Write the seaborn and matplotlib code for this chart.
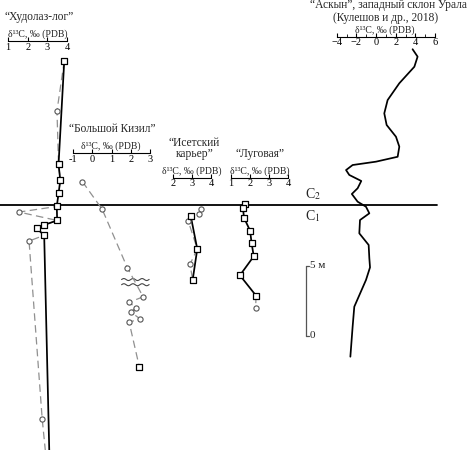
import numpy as np
import pandas as pd
import matplotlib
matplotlib.use("Agg")
import matplotlib.pyplot as plt
import seaborn as sns

sns.set_theme(style="white")
plt.rcParams['font.family'] = ['Liberation Serif', 'DejaVu Serif']
plt.rcParams['mathtext.fontset'] = 'stix'

# ---------------- DATA (height in m relative to C1/C2 boundary, d13C in permil) ----------
# Khudolaz-log
khud_sq_d13c = [3.86, 3.57, 3.66, 3.57, 3.48, 3.50, 2.84, 2.46, 2.84]
khud_sq_h = [10.25, 2.86, 1.73, 0.80, -0.14, -1.14, -1.46, -1.71, -2.20]
khud_tail_d13c = [2.84, 3.11]
khud_tail_h = [-2.20, -18.3]
khud_grey_d13c = [3.86, 3.49, 3.57, 3.66, 3.57, 3.48, 1.56, 3.50, 2.84, 2.46, 2.84, 2.07, 2.74, 2.95]
khud_grey_h = [10.25, 6.68, 2.86, 1.73, 0.80, -0.14, -0.54, -1.14, -1.46, -1.71, -2.20, -2.61, -15.34, -18.3]
khud_circ_d13c = [3.49, 1.56, 2.07, 2.74]
khud_circ_h = [6.68, -0.54, -2.61, -15.34]

# Bolshoy Kizil
kiz_circ_d13c = [-0.50, 0.52, 1.81, 2.63, 1.91, 2.25, 2.00, 2.46, 1.91]
kiz_circ_h = [1.63, -0.34, -4.50, -6.59, -6.99, -7.37, -7.68, -8.16, -8.41]
kiz_sq_d13c = [2.44]
kiz_sq_h = [-11.63]
kiz_unconf_h = [-5.36, -5.73]
kiz_unconf_range = [1.52, 2.94]

# Isetsky quarry
ise_sq_d13c = [2.94, 3.28, 3.04]
ise_sq_h = [-0.82, -3.18, -5.39]
ise_circ_d13c = [3.47, 3.39, 2.81, 2.90]
ise_circ_h = [-0.32, -0.70, -1.18, -4.27]
ise_grey_d13c = [3.47, 3.39, 2.81, 3.28, 2.90, 3.04]
ise_grey_h = [-0.32, -0.70, -1.18, -3.18, -4.27, -5.39]

# Lugovaya
lug_sq_d13c = [1.73, 1.64, 1.69, 2.01, 2.09, 2.20, 1.48, 2.32]
lug_sq_h = [0.04, -0.23, -0.94, -1.87, -2.77, -3.70, -5.06, -6.51]
lug_circ_d13c = [2.30]
lug_circ_h = [-7.37]

# Askyn (Kuleshov et al., 2018)
ask_d13c = [3.72, 4.23, 3.90, 2.37, 1.18, 0.84, 1.08, 2.03, 2.37, 2.20, 0.00, -2.38, -3.05,
            -2.72, -1.50, -1.87, -2.46, -1.87, -1.02, -0.68, -1.63, -1.70, -0.75, -0.68,
            -0.61, -1.02, -2.21, -2.38, -2.61]
ask_h = [11.09, 10.56, 9.84, 8.66, 7.46, 6.51, 5.68, 4.84, 4.13, 3.41, 3.06, 2.82, 2.46,
         2.11, 1.68, 1.16, 0.75, 0.20, -0.16, -0.63, -1.11, -2.06, -2.89, -3.84,
         -4.49, -5.39, -7.30, -8.73, -10.87]

# scale axes ticks
khud_ticks = [1, 2, 3, 4]
kiz_ticks = [-1, 0, 1, 2, 3]
ise_ticks = [2, 3, 4]
lug_ticks = [1, 2, 3, 4]
ask_ticks = [-4, -2, 0, 2, 4, 6]

# ---------------- LAYOUT ----------------
W, H = 474, 450
Y0 = 204.5      # pixel row of boundary
PXM = 14.0      # pixels per metre
H_TOP = Y0 / PXM
H_BOT = (Y0 - H) / PXM

def h_of(ypx):
    return (Y0 - ypx) / PXM

fig = plt.figure(figsize=(W / 100, H / 100), dpi=100)

ax_bg = fig.add_axes([0, 0, 1, 1])
ax_bg.set_xlim(0, 1)
ax_bg.set_ylim(H_BOT, H_TOP)
ax_bg.axis('off')
ax_bg.axhline(0, xmin=0, xmax=437 / W, color='black', lw=1.3, zorder=1)

# scale bar 5 m
sb_x = 306 / W
sb_h0 = h_of(336)
scale_len = 5
ax_bg.plot([sb_x, sb_x], [sb_h0, sb_h0 + scale_len], color='#555555', lw=0.9)
for hh in (sb_h0, sb_h0 + scale_len):
    ax_bg.plot([sb_x, sb_x + 3 / W], [hh, hh], color='#555555', lw=0.9)
ax_bg.text(sb_x + 4 / W, sb_h0 + scale_len, "5 м", fontsize=8, va='center', ha='left')
ax_bg.text(sb_x + 4 / W, sb_h0, "0", fontsize=8, va='center', ha='left')
ax_bg.text(305 / W, h_of(194), "C$_2$", fontsize=10, va='center', ha='left')
ax_bg.text(305 / W, h_of(216.5), "C$_1$", fontsize=10, va='center', ha='left')


def section(px_left, px_right, xlim, ticks, scale_ypx, minor=None):
    ax = fig.add_axes([px_left / W, 0, (px_right - px_left) / W, 1])
    ax.patch.set_alpha(0)
    ax.set_xlim(*xlim)
    ax.set_ylim(H_BOT, H_TOP)
    for s in ['top', 'left', 'right']:
        ax.spines[s].set_visible(False)
    ax.spines['bottom'].set_position(('data', h_of(scale_ypx)))
    ax.spines['bottom'].set_color('black')
    ax.spines['bottom'].set_linewidth(0.8)
    ax.set_xticks(ticks)
    ax.set_xticklabels([str(t).replace('-', '−') if xlim[0] < -2 else str(t) for t in ticks])
    if minor is not None:
        ax.set_xticks(minor, minor=True)
    ax.set_yticks([])
    ax.tick_params(axis='x', which='major', direction='in', length=3, width=0.8,
                   labelsize=7.5, pad=1.2, colors='black', bottom=True)
    ax.tick_params(axis='x', which='minor', direction='in', length=2, width=0.7, bottom=True)
    ax.set_xlabel('')
    ax.set_ylabel('')
    return ax


def black_line(ax, x, y):
    sns.lineplot(x=x, y=y, sort=False, estimator=None, color='black', lw=1.25, ax=ax,
                 clip_on=False, zorder=4)


def grey_line(ax, x, y):
    sns.lineplot(x=x, y=y, sort=False, estimator=None, color='#909090', lw=0.9, ax=ax,
                 dashes=False, linestyle=(0, (6, 3.5)), clip_on=False, zorder=3)


def squares(ax, x, y):
    sns.scatterplot(x=x, y=y, marker='s', s=14, facecolor='white', edgecolor='black',
                    linewidth=0.9, ax=ax, clip_on=False, zorder=6)


def circles(ax, x, y):
    sns.scatterplot(x=x, y=y, marker='o', s=14, facecolor='white', edgecolor='#555555',
                    linewidth=0.8, ax=ax, clip_on=False, zorder=5)


# Khudolaz-log
ax1 = section(8, 67, (1, 4), khud_ticks, 41)
grey_line(ax1, khud_grey_d13c, khud_grey_h)
black_line(ax1, khud_sq_d13c, khud_sq_h)
black_line(ax1, khud_tail_d13c, khud_tail_h)
circles(ax1, khud_circ_d13c, khud_circ_h)
squares(ax1, khud_sq_d13c, khud_sq_h)

# Bolshoy Kizil
ax2 = section(72.7, 150.3, (-1, 3), kiz_ticks, 153)
ax2.set_xticklabels([str(t) for t in kiz_ticks])
grey_line(ax2, kiz_circ_d13c + kiz_sq_d13c, kiz_circ_h + kiz_sq_h)
circles(ax2, kiz_circ_d13c, kiz_circ_h)
squares(ax2, kiz_sq_d13c, kiz_sq_h)
wx = np.linspace(kiz_unconf_range[0], kiz_unconf_range[1], 120)
for hh in kiz_unconf_h:
    ax2.plot(wx, hh + 0.07 * np.sin((wx - wx[0]) * 2 * np.pi / 0.47), color='#444444', lw=0.8,
             clip_on=False)

# Isetsky
ax3 = section(172.7, 211.1, (2, 4), ise_ticks, 177.7)
grey_line(ax3, ise_grey_d13c, ise_grey_h)
black_line(ax3, ise_sq_d13c, ise_sq_h)
circles(ax3, ise_circ_d13c, ise_circ_h)
squares(ax3, ise_sq_d13c, ise_sq_h)

# Lugovaya
ax4 = section(230.7, 288.3, (1, 4), lug_ticks, 177.7)
grey_line(ax4, [lug_sq_d13c[-1]] + lug_circ_d13c, [lug_sq_h[-1]] + lug_circ_h)
black_line(ax4, lug_sq_d13c, lug_sq_h)
circles(ax4, lug_circ_d13c, lug_circ_h)
squares(ax4, lug_sq_d13c, lug_sq_h)

# Askyn
ax5 = section(336.7, 435.0, (-4, 6), ask_ticks, 36.7, minor=[-3, -1, 1, 3, 5])
black_line(ax5, ask_d13c, ask_h)

# ---------------- TEXTS ----------------
def ftext(xpx, ypx, s, size):
    fig.text(xpx / W, 1 - ypx / H, s, fontsize=size, ha='center', va='center')

lab = "δ¹³C, ‰ (PDB)"
TS = 8.3
LS = 7.0
ftext(39.5, 17, "“Худолаз-лог”", TS)
ftext(38, 34.5, lab, LS)
ftext(112, 128.5, "“Большой Кизил”", TS)
ftext(111, 146, lab, LS)
ftext(194, 143, "“Исетский", TS)
ftext(195, 154.5, "карьер”", TS)
ftext(191.7, 170.7, lab, LS)
ftext(260, 154.5, "“Луговая”", TS)
ftext(260, 170.7, lab, LS)
ftext(388, 5, "“Аскын”, западный склон Урала", TS)
ftext(386, 18.5, "(Кулешов и др., 2018)", TS)
ftext(385, 30.5, lab, LS)

fig.savefig("out.png", dpi=100)
